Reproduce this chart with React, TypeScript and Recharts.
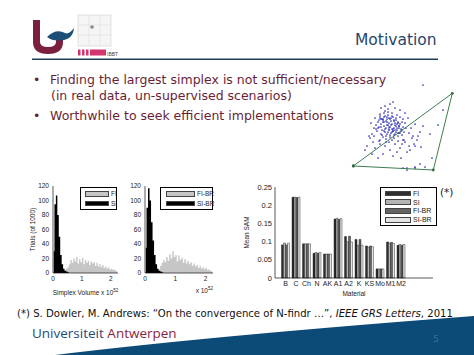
import React from "react";
import { BarChart, Bar, AreaChart, Area, XAxis, YAxis, Legend, ScatterChart, Scatter } from "recharts";

// Mean SAM per material
const MATERIALS = ["B", "C", "Ch", "N", "AK", "A1", "A2", "K", "KS", "Mo", "M1", "M2"];
const SAM_FI = [0.091, 0.222, 0.094, 0.068, 0.066, 0.162, 0.114, 0.106, 0.088, 0.025, 0.099, 0.09];
const SAM_SI = [0.096, 0.222, 0.094, 0.07, 0.066, 0.164, 0.1, 0.09, 0.085, 0.025, 0.096, 0.092];
const SAM_FI_BR = [0.091, 0.221, 0.094, 0.068, 0.066, 0.161, 0.115, 0.106, 0.088, 0.025, 0.098, 0.09];
const SAM_SI_BR = [0.096, 0.222, 0.094, 0.07, 0.066, 0.163, 0.099, 0.09, 0.086, 0.025, 0.095, 0.092];
const SAM_TICKS = [0, 0.05, 0.1, 0.15, 0.2, 0.25];

// histogram bins (simplex volume x 1e52), trials of 1000
const BIN_X = [
  0.025, 0.075, 0.125, 0.175, 0.225, 0.275, 0.325, 0.375, 0.425, 0.475, 0.525, 0.575, 0.625, 0.675, 0.725,
  0.775, 0.825, 0.875, 0.925, 0.975, 1.025, 1.075, 1.125, 1.175, 1.225, 1.275, 1.325, 1.375, 1.425, 1.475,
  1.525, 1.575, 1.625, 1.675, 1.725, 1.775, 1.825, 1.875, 1.925, 1.975, 2.025, 2.075, 2.125, 2.175, 2.225,
];
const HIST_FI = [
  0, 0, 0, 0, 0, 0, 1, 2, 3, 6, 8, 12, 18, 14, 20, 16, 22, 13, 19, 15,
  21, 12, 18, 14, 17, 11, 16, 13, 15, 10, 14, 9, 12, 8, 11, 7, 9, 6, 8, 5,
  6, 4, 5, 3, 2,
];
const HIST_SI = [
  30, 95, 107, 80, 50, 25, 12, 6, 3, 2, 1, 0, 0, 0, 0, 0, 0, 0, 0, 0,
  0, 0, 0, 0, 0, 0, 0, 0, 0, 0, 0, 0, 0, 0, 0, 0, 0, 0, 0, 0,
  0, 0, 0, 0, 0,
];
const HIST_FI_BR = [
  0, 0, 0, 0, 0, 0, 0, 1, 3, 5, 10, 14, 18, 15, 22, 17, 26, 20, 30, 22,
  25, 16, 24, 18, 21, 14, 19, 13, 17, 12, 15, 10, 13, 9, 11, 7, 10, 6, 8, 5,
  7, 4, 5, 3, 2,
];
const HIST_SI_BR = [
  35, 90, 117, 100, 70, 45, 25, 12, 6, 3, 2, 1, 0, 0, 0, 0, 0, 0, 0, 0,
  0, 0, 0, 0, 0, 0, 0, 0, 0, 0, 0, 0, 0, 0, 0, 0, 0, 0, 0, 0,
  0, 0, 0, 0, 0,
];
const HIST_Y_TICKS = [0, 20, 40, 60, 80, 100, 120];
const HIST_X_TICKS = [0, 1, 2];

// data cloud + simplex (slide-local units)
const CLOUD_X = [
  35, 38, 40, 42, 44, 46, 48, 50, 36, 39, 41, 43, 45, 47, 49, 51, 53, 55, 37, 40, 42, 44, 46, 48, 50, 52, 54, 56,
  33, 34, 31, 32, 36, 38, 41, 45, 49, 53, 57, 58, 60, 58, 55, 52, 47, 43, 39, 35, 44, 47, 39, 51, 42, 54, 49,
  40, 45, 50, 55, 36, 60, 48, 63, 30, 25, 28, 22, 30, 35, 40, 45, 50, 55, 60, 62, 38, 48, 56, 65, 20, 27, 33,
  70, 58, 44, 52, 66, 68, 70, 72, 75, 64, 78, 78, 98, 93, 87, 85, 62, 70, 75, 58, 62, 70, 80,
  37, 41, 45, 49, 53, 57, 34, 38, 42, 46, 50, 54, 36, 40, 44, 48, 52, 56, 39, 43, 47, 51, 55, 33, 37, 41, 45,
  49, 53, 35, 39, 43, 47, 51, 46, 42, 38, 50, 54, 44, 48, 52, 40, 36, 57, 59, 61, 29, 27, 26, 24, 31, 34, 67,
  73, 69, 76, 64, 59, 53, 47, 41, 35, 29, 57, 43,
];
const CLOUD_Y = [
  40, 42, 38, 44, 40, 43, 39, 45, 46, 48, 50, 47, 49, 46, 50, 48, 44, 46, 52, 54, 56, 52, 55, 53, 56, 52, 50, 53,
  44, 49, 47, 53, 56, 59, 61, 59, 60, 58, 57, 49, 45, 41, 39, 37, 35, 34, 35, 36, 45, 51, 44, 42, 41, 55, 43,
  28, 26, 30, 32, 30, 35, 24, 40, 40, 60, 64, 68, 70, 66, 68, 72, 66, 70, 64, 74, 76, 78, 80, 72, 72, 76, 80,
  68, 62, 64, 74, 50, 58, 46, 62, 54, 55, 48, 7, 32, 47, 80, 56, 92, 90, 86, 90, 90, 89, 89,
  41, 43, 41, 42, 45, 44, 42, 44, 47, 47, 47, 48, 49, 51, 51, 51, 50, 51, 53, 54, 54, 54, 55, 50, 57, 58, 57,
  57, 55, 38, 39, 37, 38, 40, 40, 39, 41, 52, 48, 49, 53, 46, 33, 41, 52, 54, 50, 50, 56, 45, 58, 51, 63, 60,
  58, 66, 69, 68, 62, 63, 62, 64, 62, 58, 66, 31,
];
const SIMPLEX_X = [8.3, 107.3, 88.3, 8.3];
const SIMPLEX_Y = [88, 15.3, 92, 88];

const SAM_SERIES = [
  { key: "fi", name: "FI", color: "#2e2e2e" },
  { key: "si", name: "SI", color: "#b4b4b4" },
  { key: "fibr", name: "FI-BR", color: "#646464" },
  { key: "sibr", name: "SI-BR", color: "#e4e4e4" },
];

const samData = MATERIALS.map((m, i) => ({
  m,
  fi: SAM_FI[i],
  si: SAM_SI[i],
  fibr: SAM_FI_BR[i],
  sibr: SAM_SI_BR[i],
}));
const histLeft = BIN_X.map((x, i) => ({ x, fi: HIST_FI[i], si: HIST_SI[i] }));
const histRight = BIN_X.map((x, i) => ({ x, fi: HIST_FI_BR[i], si: HIST_SI_BR[i] }));
const cloud = CLOUD_X.map((x, i) => ({ x, y: CLOUD_Y[i] }));
const simplex = SIMPLEX_X.map((x, i) => ({ x, y: SIMPLEX_Y[i] }));

const AX = "#111";
const mFont = "Liberation Sans, Arial, sans-serif";
const tickStyle = (size: number) => ({ fontSize: size, fill: "#222", fontFamily: mFont });

function BoxLegend({ items, swatch, row, size, width, pad }: any) {
  return (
    <div
      style={{
        width,
        boxSizing: "border-box",
        border: "0.8px solid #000",
        background: "#fff",
        padding: `1px 0 1px ${pad}px`,
        fontFamily: mFont,
        fontSize: size,
        color: "#222",
        whiteSpace: "nowrap",
      }}
    >
      {items.map((it: any) => (
        <div key={it.name} style={{ display: "flex", alignItems: "center", height: row }}>
          <span
            style={{
              display: "inline-block",
              flex: "none",
              width: swatch,
              height: 5.5,
              background: it.color,
              border: "0.5px solid #444",
              boxSizing: "border-box",
            }}
          />
          <span style={{ marginLeft: 2 }}>{it.name}</span>
        </div>
      ))}
    </div>
  );
}

function Hist({ data, names, yLabel, xLabel, legendLeft, legendWidth, swatch, pad, yWidth, width }: any) {
  const items = [
    { name: names[0], color: "#c6c6c6" },
    { name: names[1], color: "#000" },
  ];
  return (
    <AreaChart width={width} height={120} data={data} margin={{ top: 6, right: 7, left: 0, bottom: 15 }}>
      <XAxis
        type="number"
        dataKey="x"
        domain={[0, 2.25]}
        ticks={HIST_X_TICKS}
        allowDataOverflow
        height={12}
        tickSize={2}
        tickMargin={1}
        tickLine={false}
        stroke={AX}
        strokeWidth={0.7}
        tick={tickStyle(6.5)}
        label={{
          content: (p: any) => {
            const vb = p.viewBox;
            if (xLabel === "full") {
              return (
                <text x={vb.x + vb.width / 2} y={vb.y + 22} textAnchor="middle" fontSize={6.5} fontFamily={mFont} fill="#222">
                  Simplex Volume x 10<tspan dy={-3} fontSize={4.5}>52</tspan>
                </text>
              );
            }
            return (
              <text x={vb.x + vb.width} y={vb.y + 20} textAnchor="end" fontSize={6.5} fontFamily={mFont} fill="#222">
                x 10<tspan dy={-3} fontSize={4.5}>52</tspan>
              </text>
            );
          },
        }}
      />
      <XAxis xAxisId="top" orientation="top" type="number" dataKey="x" domain={[0, 2.25]} height={0} tick={false} tickLine={false} stroke={AX} strokeWidth={0.7} />
      <YAxis
        domain={[0, 120]}
        ticks={HIST_Y_TICKS}
        width={yWidth}
        tickSize={2}
        tickMargin={2}
        tickLine={false}
        stroke={AX}
        strokeWidth={0.7}
        tick={tickStyle(6.5)}
        label={
          yLabel
            ? { value: yLabel, angle: -90, position: "insideLeft", offset: 13, style: { textAnchor: "middle", fontSize: 6.5, fontFamily: mFont, fill: "#222" } }
            : undefined
        }
      />
      <YAxis yAxisId="r" orientation="right" width={0} tick={false} tickLine={false} stroke={AX} strokeWidth={0.7} />
      <Area type="step" dataKey="fi" name={names[0]} fill="#c6c6c6" fillOpacity={1} stroke="none" dot={false} activeDot={false} isAnimationActive={false} />
      <Area type="step" dataKey="si" name={names[1]} fill="#000" fillOpacity={1} stroke="none" dot={false} activeDot={false} isAnimationActive={false} />
      <Legend
        layout="vertical"
        align="center"
        verticalAlign="middle"
        wrapperStyle={{ left: legendLeft, top: 7, width: legendWidth }}
        content={() => <BoxLegend items={items} swatch={swatch} row={9.5} size={6.5} width={legendWidth} pad={pad} />}
      />
    </AreaChart>
  );
}

export default function App() {
  return (
    <div style={{ position: "absolute", left: 0, top: 0, width: 474, height: 355, overflow: "hidden", background: "#fff" }}>
      <svg width={474} height={355} style={{ position: "absolute", left: 0, top: 0 }}>
        {/* logo */}
        <path d="M36.5 20 V42 Q36.5 50.5 48 50.5 Q59.5 50.5 59.5 42 V37" fill="none" stroke="#7a1f3d" strokeWidth={7} />
        <path d="M47 37 Q56 28 65 33 Q69 35 74 28 Q73 40 60 40.5 Q52 41 47 37 Z" fill="#1d4f76" />
        <rect x={78} y={15} width={33} height={31} fill="#f5f5f5" stroke="#cfcfcf" strokeWidth={0.6} />
        <path d="M78 25 H111 M78 35 H111 M89 15 V46 M100 15 V46" stroke="#dadada" strokeWidth={0.5} />
        <circle cx={92} cy={27} r={1.8} fill="#888" />
        <rect x={78} y={49.5} width={2.5} height={6} fill="#d3356e" />
        <rect x={82} y={49.5} width={2.5} height={6} fill="#d3356e" />
        <rect x={86} y={49.5} width={2.5} height={6} fill="#d3356e" />
        <rect x={90} y={49.5} width={16} height={6} fill="#d3356e" />
        <text x={107} y={55.5} fontSize={5} fontFamily={mFont} fill="#444">IBBT</text>

        <text x={355} y={45} fontSize={15.5} fontFamily="DejaVu Sans" fill="#27466a">Motivation</text>
        <line x1={32} x2={438} y1={59.3} y2={59.3} stroke="#1f3e5e" strokeWidth={1.6} />

        <g fontFamily="DejaVu Sans" fontSize={12.5} fill="#6a1e35">
          <text x={33} y={84}>•</text>
          <text x={50} y={84}>Finding the largest simplex is not sufficient/necessary</text>
          <text x={51} y={99.5}>(in real data, un-supervised scenarios)</text>
          <text x={33} y={120}>•</text>
          <text x={50} y={120}>Worthwhile to seek efficient implementations</text>
        </g>

        <text x={440} y={196} fontSize={10.5} fontFamily="DejaVu Sans" fill="#222">(*)</text>

        <text x={17} y={316.5} fontSize={10.1} fontFamily="DejaVu Sans" fill="#111">
          (*) S. Dowler, M. Andrews: “On the convergence of N-findr …”, <tspan fontStyle="italic">IEEE GRS Letters</tspan>, 2011
        </text>

        <path d="M55 355 Q210 336 474 316 V355 Z" fill="#0c4a78" />
        <text x={433} y={342} fontSize={9} fontFamily="DejaVu Sans" fill="#3a6f9c">5</text>
        <text x={32} y={338} fontSize={13.5} fontFamily="Open Sans" fill="#1f4a78">
          Universiteit <tspan fill="#8a1f40">Antwerpen</tspan>
        </text>
      </svg>

      <div style={{ position: "absolute", left: 345, top: 78 }}>
        <ScatterChart width={115} height={96} margin={{ top: 0, right: 0, bottom: 0, left: 0 }}>
          <XAxis type="number" dataKey="x" domain={[0, 115]} hide />
          <YAxis type="number" dataKey="y" domain={[0, 96]} reversed hide />
          <Scatter
            data={cloud}
            isAnimationActive={false}
            shape={(p: any) => <circle cx={p.cx} cy={p.cy} r={0.85} fill="#2323b8" />}
          />
          <Scatter
            data={simplex}
            isAnimationActive={false}
            line={{ stroke: "#3e7d52", strokeWidth: 1 }}
            shape={(p: any) => <circle cx={p.cx} cy={p.cy} r={1.4} fill="#2f6b40" />}
          />
        </ScatterChart>
      </div>

      <div style={{ position: "absolute", left: 20, top: 180 }}>
        <Hist data={histLeft} names={["FI", "SI"]} yLabel="Trials (of 1000)" xLabel="full" legendLeft={60} legendWidth={37} swatch={24} pad={4} yWidth={33} width={105} />
      </div>
      <div style={{ position: "absolute", left: 120, top: 180 }}>
        <Hist data={histRight} names={["FI-BR", "SI-BR"]} xLabel="short" legendLeft={40} legendWidth={53} swatch={29} pad={5} yWidth={25} width={100} />
      </div>

      <div style={{ position: "absolute", left: 240, top: 180 }}>
        <BarChart width={200} height={120} data={samData} margin={{ top: 7, right: 7, left: 0, bottom: 10 }} barGap={0} barCategoryGap="12%">
          <XAxis
            dataKey="m"
            height={12}
            padding={{ left: 5.25, right: 26.75 }}
            tickSize={2}
            tickMargin={1}
            tickLine={false}
            interval={0}
            stroke={AX}
            strokeWidth={0.7}
            tick={tickStyle(7)}
            label={{
              content: (p: any) => (
                <text x={p.viewBox.x + p.viewBox.width / 2} y={p.viewBox.y + 18} textAnchor="middle" fontSize={6.5} fontFamily={mFont} fill="#222">
                  Material
                </text>
              ),
            }}
          />
          <XAxis xAxisId="top" orientation="top" dataKey="m" height={0} tick={false} tickLine={false} stroke={AX} strokeWidth={0.7} />
          <YAxis
            domain={[0, 0.25]}
            ticks={SAM_TICKS}
            width={35}
            tickSize={2}
            tickMargin={1}
            tickLine={false}
            stroke={AX}
            strokeWidth={0.7}
            tick={tickStyle(7.5)}
            tickFormatter={(v: number) => String(v)}
            label={{ value: "Mean SAM", angle: -90, position: "insideLeft", offset: 7, style: { textAnchor: "middle", fontSize: 6.5, fontFamily: mFont, fill: "#222" } }}
          />
          <YAxis yAxisId="r" orientation="right" width={0} tick={false} tickLine={false} stroke={AX} strokeWidth={0.7} />
          {SAM_SERIES.map((s) => (
            <Bar key={s.key} dataKey={s.key} name={s.name} fill={s.color} stroke="#111" strokeWidth={0.4} isAnimationActive={false} />
          ))}
          <Legend
            layout="vertical"
            align="center"
            verticalAlign="middle"
            wrapperStyle={{ left: 140, top: 7, width: 57 }}
            content={() => <BoxLegend items={SAM_SERIES} swatch={26} row={8.8} size={7} width={57} pad={4} />}
          />
        </BarChart>
      </div>
    </div>
  );
}
